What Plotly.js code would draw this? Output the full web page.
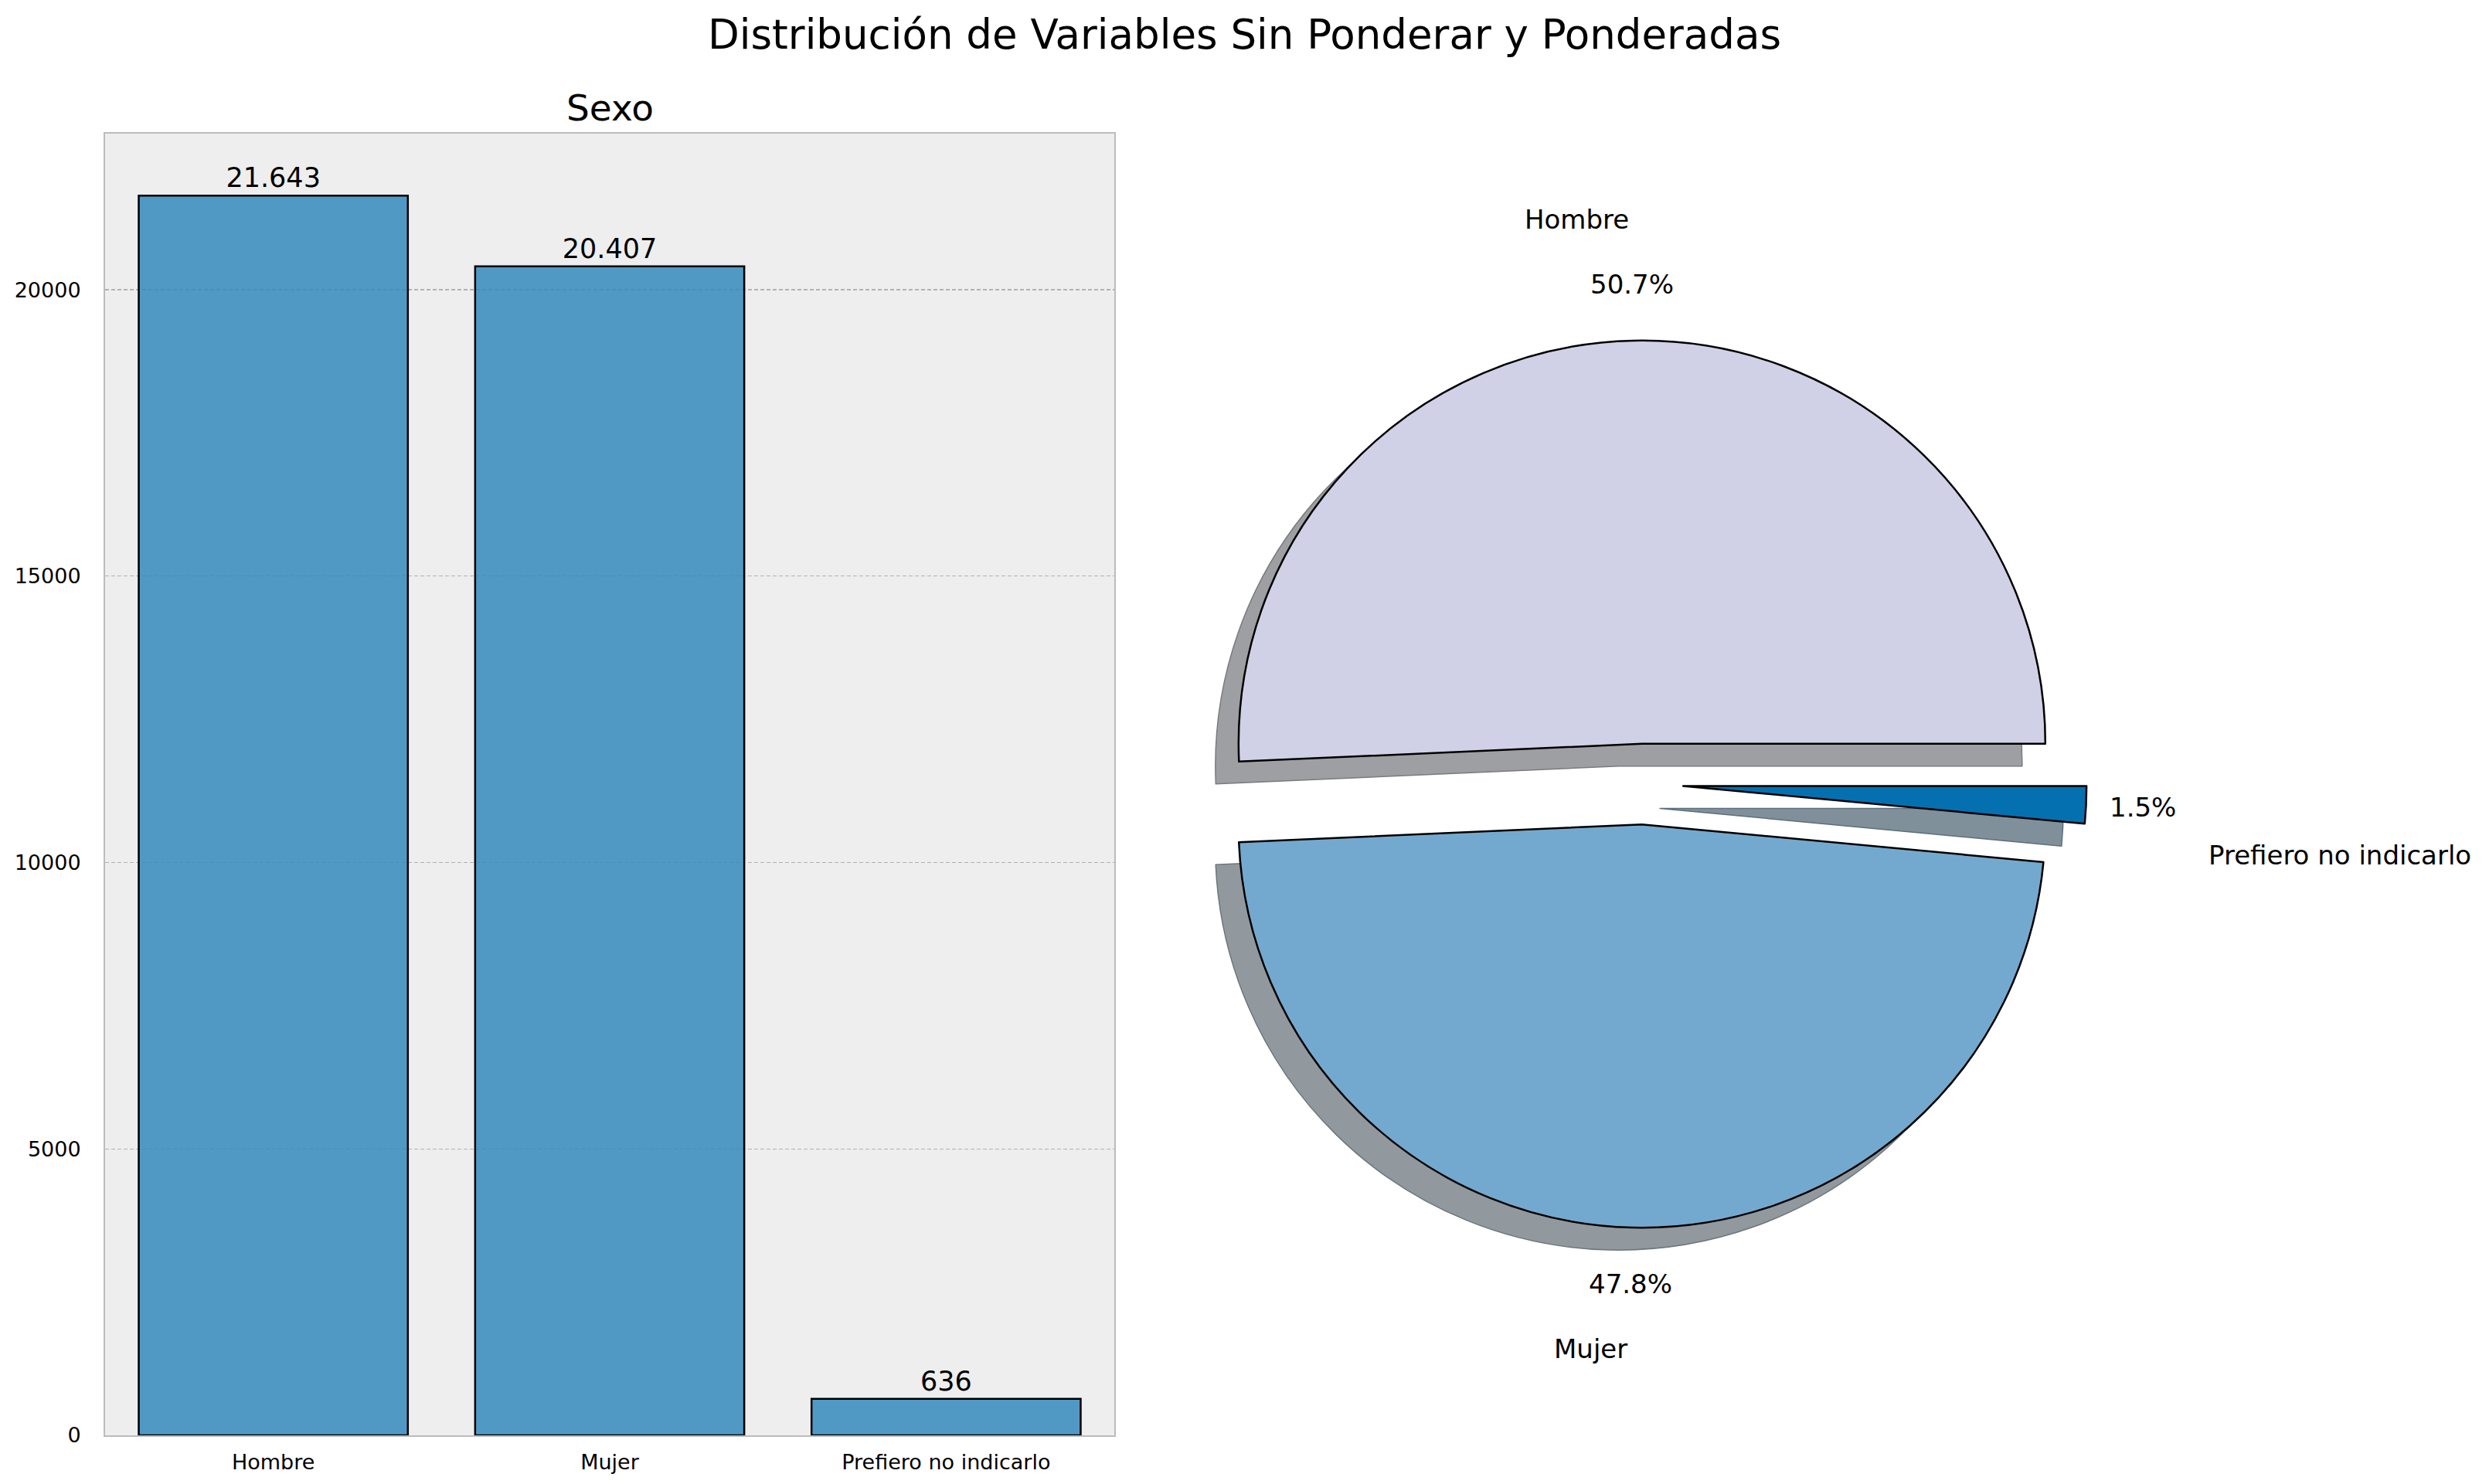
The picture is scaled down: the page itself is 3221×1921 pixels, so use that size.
<!DOCTYPE html>
<html>
<head>
<meta charset="utf-8">
<script src="https://cdn.plot.ly/plotly-3.0.1.min.js"></script>
<style>html,body{margin:0;padding:0;background:#fff;}#chart{width:3221px;height:1921px;}</style>
</head>
<body>
<div id="chart"></div>
<script>
// ---- data ----
const categories = ['Hombre', 'Mujer', 'Prefiero no indicarlo'];
const counts = [21643, 20407, 636];
const pieLabels = ['Hombre', 'Mujer', 'Prefiero no indicarlo'];
const pieValues = [21643, 20407, 636];
const yTickVals = [0, 5000, 10000, 15000, 20000];
const yTickText = ['0', '5000', '10000', '15000', '20000'];

// ---- styles / layout geometry ----
const W = 3221, H = 1921;
const barColor = 'rgba(52,138,189,0.85)';
const pieColors = ['#d0d1e6', '#74a9cf', '#0570b0'];
const shadowColors = ['#9e9fa2', '#91999e', '#80909a'];
const shadowEdge = ['#7a7b7f', '#6d767c', '#5e6f7b'];
const PIE_CX = 2126, PIE_CY = 1015, PIE_R = 522, PULL = 0.1;
const SH_DX = -30, SH_DY = 29;
const LABEL_DIST = 1.3, PCT_DIST = 1.14;
const labelExtraDy = [0, 0, 58];

function fmt(v) { return String(v).replace(/\B(?=(\d{3})+(?!\d))/g, '.'); }

function pieDomain(cx, cy) {
  const half = PIE_R * (1 + PULL);
  return {
    x: [(cx - half) / W, (cx + half) / W],
    y: [1 - (cy + half) / H, 1 - (cy - half) / H]
  };
}

const total = pieValues.reduce((a, b) => a + b, 0);
// first wedge starts at 3 o'clock and runs counterclockwise (matplotlib startangle=0)
const pieRotation = 90 - 360 * pieValues[0] / total;

const barTrace = {
  type: 'bar', x: categories, y: counts, xaxis: 'x', yaxis: 'y',
  marker: { color: barColor, line: { color: '#000000', width: 2.5 } },
  text: counts.map(fmt), textposition: 'outside',
  textfont: { size: 35, color: '#000000', family: 'DejaVu Sans' },
  constraintext: 'none', cliponaxis: false, hoverinfo: 'skip', showlegend: false
};

const pulls = pieValues.map(() => PULL);

const shadowPie = {
  type: 'pie', values: pieValues, labels: pieLabels, sort: false,
  direction: 'counterclockwise', rotation: pieRotation, pull: pulls,
  marker: { colors: shadowColors, line: { color: shadowEdge, width: 1.5 } },
  textinfo: 'none', hoverinfo: 'skip', showlegend: false,
  domain: pieDomain(PIE_CX + SH_DX, PIE_CY + SH_DY)
};

const mainPie = {
  type: 'pie', values: pieValues, labels: pieLabels, sort: false,
  direction: 'counterclockwise', rotation: pieRotation, pull: pulls,
  marker: { colors: pieColors, line: { color: '#000000', width: 2.5 } },
  textinfo: 'none', hoverinfo: 'skip', showlegend: false,
  domain: pieDomain(PIE_CX, PIE_CY)
};

// pie label annotations computed from the data (matplotlib-like label/pct distance)
const annotations = [];
let cum = 0;
pieValues.forEach((v, i) => {
  const mid = (cum + v / 2) / total * 2 * Math.PI; // ccw from east, start 0
  cum += v;
  const c = Math.cos(mid), s = Math.sin(mid);
  const scx = PIE_CX + PULL * PIE_R * c, scy = PIE_CY - PULL * PIE_R * s;
  const lx = scx + LABEL_DIST * PIE_R * c, ly = scy - LABEL_DIST * PIE_R * s + labelExtraDy[i];
  const px = scx + PCT_DIST * PIE_R * c, py = scy - PCT_DIST * PIE_R * s;
  annotations.push({
    xref: 'paper', yref: 'paper', x: lx / W, y: 1 - ly / H,
    text: pieLabels[i], showarrow: false,
    xanchor: c < 0 ? 'right' : 'left', yanchor: 'middle',
    font: { size: 34, color: '#000000' }
  });
  annotations.push({
    xref: 'paper', yref: 'paper', x: px / W, y: 1 - py / H,
    text: (v / total * 100).toFixed(1) + '%', showarrow: false,
    xanchor: 'center', yanchor: 'middle',
    font: { size: 34, color: '#000000' }
  });
});

// subplot title
annotations.push({
  xref: 'paper', yref: 'paper', x: 789 / W, y: 1 - 140 / H,
  text: 'Sexo', showarrow: false, xanchor: 'center', yanchor: 'middle',
  font: { size: 47, color: '#000000' }
});

const layout = {
  width: W, height: H, autosize: false,
  margin: { l: 0, r: 0, t: 0, b: 0, pad: 0 },
  paper_bgcolor: '#ffffff', plot_bgcolor: '#eeeeee',
  font: { family: 'DejaVu Sans', color: '#000000' },
  title: {
    text: 'Distribución de Variables Sin Ponderar y Ponderadas',
    font: { size: 53, color: '#000000', family: 'DejaVu Sans' },
    x: 0.5, xanchor: 'center', y: 1 - 44 / H, yanchor: 'middle'
  },
  bargap: 0.2,
  xaxis: {
    domain: [136 / W, 1442 / W], type: 'category', range: [-0.5, 2.5],
    showgrid: false, zeroline: false,
    showline: true, mirror: true, linecolor: '#bcbcbc', linewidth: 2,
    ticks: 'outside', ticklen: 10, tickcolor: 'rgba(0,0,0,0)',
    tickfont: { size: 27, color: '#000000' }, fixedrange: true
  },
  yaxis: {
    domain: [1 - 1858 / H, 1 - 173 / H], range: [0, 22725],
    tickmode: 'array', tickvals: yTickVals, ticktext: yTickText,
    showgrid: true, gridcolor: '#b2b2b2', gridwidth: 1.2, griddash: '5px,3px',
    zeroline: false,
    showline: true, mirror: true, linecolor: '#bcbcbc', linewidth: 2,
    ticks: 'outside', ticklen: 24, tickcolor: 'rgba(0,0,0,0)',
    tickfont: { size: 27, color: '#000000' }, fixedrange: true
  },
  annotations: annotations
};

Plotly.newPlot('chart', [barTrace, shadowPie, mainPie], layout, { staticPlot: true, displayModeBar: false });
</script>
</body>
</html>
